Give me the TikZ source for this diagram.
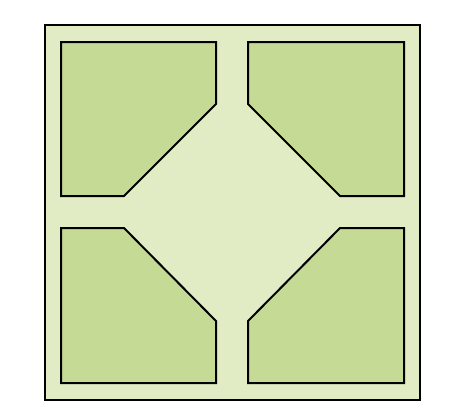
\documentclass[tikz,border=0pt]{standalone}
\definecolor{outerfill}{HTML}{E1ECC5}
\definecolor{innerfill}{HTML}{C5DB95}
\tikzset{
  outerbox/.style={draw=black, fill=outerfill, line width=2pt},
  innerpiece/.style={draw=black, fill=innerfill, line width=2pt, line join=miter}
}
\begin{document}
\begin{tikzpicture}[x=1pt,y=-1pt]
\useasboundingbox (0,0) rectangle (474,418);
\draw[outerbox] (44.5,25) rectangle (420,399.5);
% top-left
\draw[innerpiece] (61,42) -- (216,42) -- (216,104) -- (124,196) -- (61,196) -- cycle;
% top-right
\draw[innerpiece] (404,42) -- (248,42) -- (248,104) -- (340,196) -- (404,196) -- cycle;
% bottom-left
\draw[innerpiece] (61,383) -- (216,383) -- (216,321) -- (124,228) -- (61,228) -- cycle;
% bottom-right
\draw[innerpiece] (404,383) -- (248,383) -- (248,321) -- (340,228) -- (404,228) -- cycle;
\end{tikzpicture}
\end{document}
